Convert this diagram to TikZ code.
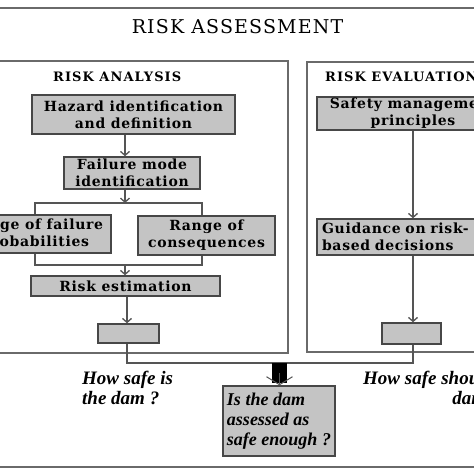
\documentclass[tikz,border=0pt]{standalone}
\usepackage{fontspec}
\setmainfont{DejaVu Serif}
\newfontfamily\ttlf[LetterSpace=6]{DejaVu Serif}
\newfontfamily\bxf[LetterSpace=5]{DejaVu Serif}
\newfontfamily\hdf[LetterSpace=8]{DejaVu Serif}
\newfontfamily\itf{Liberation Serif}
\usetikzlibrary{arrows.meta,calc}
\definecolor{boxfill}{HTML}{C4C4C4}
\definecolor{boxline}{HTML}{474747}
\definecolor{frameline}{HTML}{6A6A6A}
\definecolor{connline}{HTML}{555555}
\begin{document}
\begin{tikzpicture}[x=1pt,y=-1pt,
  box/.style={draw=boxline, line width=1.4pt, fill=boxfill, inner sep=0pt, align=center,
    font=\bxf\bfseries\fontsize{14}{17}\selectfont},
  hdr/.style={font=\hdf\bfseries\fontsize{13}{15}\selectfont, inner sep=0pt, anchor=west},
  frame/.style={draw=frameline, line width=1.3pt},
  conn/.style={draw=connline, line width=1.3pt},
  arr/.style={conn, -{Straight Barb[length=4pt,width=9pt]}},
  q/.style={font=\itf\bfseries\itshape\fontsize{19}{20}\selectfont, inner sep=0pt}]
\useasboundingbox (0,0) rectangle (474,474);
\clip (0,0) rectangle (474,474);
\fill[white] (0,0) rectangle (474,474);
% frames
\draw[frame] (-5,8) -- (480,8);
\draw[frame] (-5,467) -- (480,467);
\node[font=\ttlf\fontsize{19}{22}\selectfont, inner sep=0pt] (title) at (237.5,27) {RISK ASSESSMENT};
\draw[frame] (-10,61) rectangle (288,353);
\draw[frame] (307,62) rectangle (490,352);
\node[hdr] (ra) at (53,77) {RISK ANALYSIS};
\node[hdr] (re) at (325,77) {RISK EVALUATION};
% left boxes
\node[box, minimum width=203pt, minimum height=39pt] (haz) at (133.5,114.5) {Hazard identification\\and definition};
\node[box, minimum width=136pt, minimum height=32pt] (fail) at (132,173) {Failure mode\\identification};
\node[box, minimum width=152pt, minimum height=38pt] (prob) at (35,234) {Range of failure\\probabilities};
\node[box, minimum width=137pt, minimum height=39pt] (cons) at (206.5,235.5) {Range of\\consequences};
\node[box, minimum width=189pt, minimum height=20pt] (est) at (125.5,286) {Risk estimation};
\node[box, minimum width=61pt, minimum height=19pt] (bL) at (128.5,333.5) {};
% right boxes
\node[box, minimum width=192pt, minimum height=33pt] (saf) at (413,113.5) {Safety management\\principles};
\node[box, minimum width=190pt, minimum height=36pt, text width=180pt, align=left] (gd) at (412,237) {Guidance on risk-\\based decisions};
\node[box, minimum width=59pt, minimum height=21pt] (bR) at (411.5,333.5) {};
% result box
\node[box, minimum width=112pt, minimum height=70pt, align=left, font=\itf\bfseries\itshape\fontsize{18}{20}\selectfont] (dam) at (279,421) {Is the dam\\assessed as\\safe enough ?};
% questions
\node[q, anchor=north west, align=left] (qL) at (82,371) {How safe is\\the dam ?};
\node[q, anchor=north west, align=right] (qR) at (363,371) {How safe should the\\dam be ?};
% helper coordinates
\coordinate (c1) at (125,0);
\coordinate (c2) at (127,0);
\coordinate (cl) at (35,0);
\coordinate (cr) at (202,0);
\coordinate (cR) at (413,0);
\coordinate (j1) at (0,203);
\coordinate (j2) at (0,265);
\coordinate (j3) at (0,363);
\coordinate (cm) at (279.5,0);
% connectors
\draw[arr] (haz.south -| c1) -- (fail.north -| c1);
\draw[arr] (fail.south -| c1) -- (c1 |- j1);
\draw[conn] (prob.north -| cl) -- (cl |- j1) -- (cr |- j1) -- (cons.north -| cr);
\draw[conn] (prob.south -| cl) -- (cl |- j2) -- (cr |- j2) -- (cons.south -| cr);
\draw[arr] (c1 |- j2) -- (est.north -| c1);
\draw[arr] (est.south -| c2) -- (bL.north -| c2);
\draw[conn] (bL.south -| c2) -- (c2 |- j3) -- (cR |- j3) -- (bR.south -| cR);
\draw[arr] (saf.south -| cR) -- (gd.north -| cR);
\draw[arr] (gd.south -| cR) -- (bR.north -| cR);
% thick arrow
\draw[black, line width=15pt] (cm |- j3) -- ($(dam.north -| cm)+(0,-2)$);
\draw[conn, line width=1pt, -{Straight Barb[length=8pt,width=26pt]}] ($(dam.north -| cm)+(0,-12)$) -- (dam.north -| cm);
\end{tikzpicture}
\end{document}
